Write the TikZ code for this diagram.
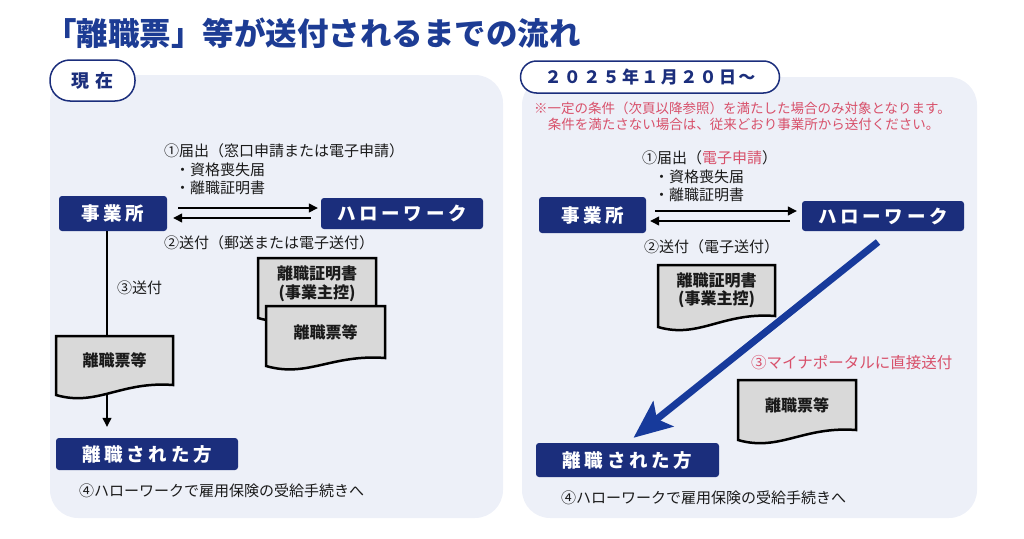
\documentclass[tikz,border=0pt]{standalone}
\usepackage{fontspec}
\setmainfont{Noto Sans CJK JP}
\newfontfamily\boxfont[LetterSpace=20]{Noto Sans CJK JP}
\newfontfamily\pillfont[LetterSpace=30]{Noto Sans CJK JP}
\newfontfamily\datefont[LetterSpace=14]{Noto Sans CJK JP}
\usetikzlibrary{arrows.meta}
\definecolor{navy}{HTML}{1B2E7C}
\definecolor{titleblue}{HTML}{1D3C94}
\definecolor{panelbg}{HTML}{EDF0F8}
\definecolor{notered}{HTML}{D8506A}
\definecolor{arrowblue}{HTML}{173A9B}
\definecolor{docgray}{HTML}{D9D9D9}
\definecolor{ink}{HTML}{1A1A1A}
\tikzset{
  panel/.style={fill=panelbg, rounded corners=28pt},
  pill/.style={draw=navy, line width=1.5pt, fill=white, text=navy, inner sep=0pt},
  bluebox/.style={fill=navy, rounded corners=3pt, text=white, inner sep=0pt,
    font=\boxfont\bfseries\fontsize{18.5}{20}\selectfont},
  lbl/.style={anchor=west, inner sep=0pt, text=ink, font=\fontsize{15}{18}\selectfont},
  redlbl/.style={anchor=west, inner sep=0pt, text=notered, font=\fontsize{15.5}{18}\selectfont},
  note/.style={inner sep=0pt, text=notered, font=\fontsize{13.5}{16}\selectfont},
  docpath/.style={fill=docgray, draw=black, line width=2.5pt},
  doctext/.style={inner sep=0pt, align=center, text=ink, font=\bfseries\fontsize{16}{18.5}\selectfont},
  conn/.style={draw=black, line width=1.3pt},
  arr/.style={conn, -{Triangle[length=9pt,width=9pt]}},
  bigarrow/.style={draw=arrowblue, line width=7pt, -{Stealth[length=38pt,width=32pt,inset=8pt]}},
}
\newcommand\docnode[7]{%
  \path[docpath] (#2,#3) -- (#4,#3) -- (#4,#5)
    .. controls ({#2+0.55*(#4-#2)},{#5-4}) and ({#2+0.35*(#4-#2)},{#6+12}) .. (#2,#6) -- cycle;
  \node[doctext, minimum width={#4-#2}, minimum height={#5-#3}] (#1) at ({(#2+#4)/2},{(#3+#5)/2}) {#7};
}
\begin{document}
\begin{tikzpicture}[x=1pt,y=-1pt]
\useasboundingbox (0,0) rectangle (1024,538);
% title
\node[anchor=west, inner sep=0pt, text=titleblue, font=\bfseries\fontsize{31.5}{34}\selectfont] (title) at (45,33) {「離職票」等が送付されるまでの流れ};
% panels
\path[panel] (50,75) rectangle (503,518);
\path[panel] (522,77) rectangle (977,518);
% pills
\node[pill, rounded corners=20pt, minimum width=85pt, minimum height=41pt, font=\pillfont\bfseries\fontsize{18}{20}\selectfont] (now) at (92.5,80.5) {現在};
\node[pill, rounded corners=16pt, minimum width=259pt, minimum height=32pt, font=\datefont\bfseries\fontsize{17}{20}\selectfont] (date) at (650,77) {２０２５年１月２０日～};

% ---------- left panel ----------
\node[bluebox, minimum width=108pt, minimum height=35pt] (jl) at (113,213.5) {事業所};
\node[bluebox, minimum width=162pt, minimum height=31pt] (hl) at (402,213.5) {ハローワーク};
\node[bluebox, minimum width=182pt, minimum height=32pt] (lgone) at (147,454) {離職された方};
\coordinate (lx) at (107,0);

\draw[arr] ([shift={(11,-5.5)}]jl.east) -- ([shift={(-3,-5.5)}]hl.west);
\draw[arr] ([shift={(-10,4.5)}]hl.west) -- ([shift={(6,4.5)}]jl.east);

\node[lbl] (l1) at (164,151) {①届出（窓口申請または電子申請）};
\node[lbl] (l1a) at (175,169.5) {・資格喪失届};
\node[lbl] (l1b) at (175,188) {・離職証明書};
\node[lbl] (l2) at (164,243) {②送付（郵送または電子送付）};
\node[lbl] (l3) at (117,288) {③送付};
\node[lbl] (l4) at (79,491) {④ハローワークで雇用保険の受給手続きへ};

\draw[conn] (jl.south -| lx) -- (336,336 -| lx);
\draw[arr] (108,385 -| lx) -- ([yshift=11pt]lgone.north -| lx);

\docnode{ld}{56}{336}{173}{385}{395}{離職票等}
\docnode{lc}{258}{258}{376}{310}{318}{離職証明書\\(事業主控)}
\docnode{lt}{266}{306}{385}{358}{366}{離職票等}

% ---------- right panel ----------
\node[note] (n1) at (742.5,108.5) {※一定の条件（次頁以降参照）を満たした場合のみ対象となります。};
\node[note] (n2) at (743.5,124.5) {条件を満たさない場合は、従来どおり事業所から送付ください。};

\node[bluebox, minimum width=107pt, minimum height=36pt] (jr) at (592.5,215) {事業所};
\node[bluebox, minimum width=162pt, minimum height=30pt] (hr) at (883,216) {ハローワーク};
\node[bluebox, minimum width=183pt, minimum height=34pt] (rgone) at (627.5,460) {離職された方};

\draw[arr] ([shift={(9,-4)}]jr.east) -- ([shift={(-5,-5)}]hr.west);
\draw[arr] ([shift={(-12,5)}]hr.west) -- ([shift={(4,6)}]jr.east);

\node[lbl] (r1) at (642,158) {①届出（\textcolor{notered}{電子申請}）};
\node[lbl] (r1a) at (654,176.5) {・資格喪失届};
\node[lbl] (r1b) at (654,195) {・離職証明書};
\node[lbl] (r2) at (644,247) {②送付（電子送付）};
\node[redlbl] (r3) at (751,363) {③マイナポータルに直接送付};
\node[lbl] (r4) at (561,498) {④ハローワークで雇用保険の受給手続きへ};

\docnode{rc}{658}{265}{775}{316}{327}{離職証明書\\(事業主控)}
\docnode{rt}{738}{380}{856}{430}{440}{離職票等}

\coordinate (bigtail) at (878,242);
\draw[bigarrow] (bigtail) -- ([shift={(6,-5)}]rgone.north);
\end{tikzpicture}
\end{document}
